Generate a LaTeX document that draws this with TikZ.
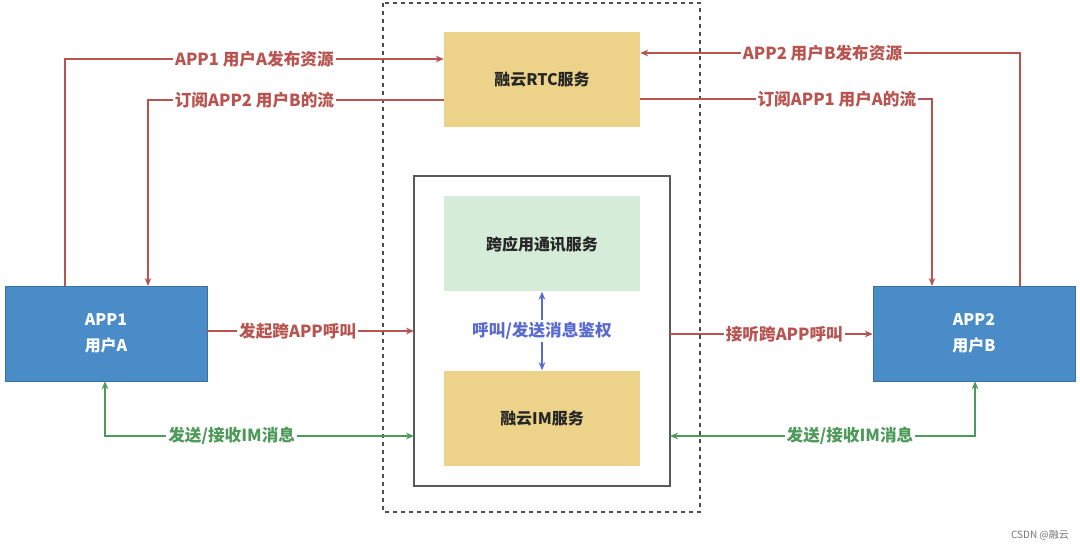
\documentclass[tikz,border=0pt]{standalone}
\usepackage{fontspec}
\setmainfont{Noto Sans CJK SC}
\usetikzlibrary{arrows.meta}
\definecolor{rd}{HTML}{B85450}
\definecolor{gn}{HTML}{4E9A5A}
\definecolor{bl}{HTML}{5A6BD0}
\definecolor{yb}{HTML}{EDD38A}
\definecolor{gb}{HTML}{D5EDD8}
\definecolor{ab}{HTML}{4A8CC8}
\begin{document}
\begin{tikzpicture}[x=0.0264cm,y=-0.0264cm,
  box/.style={draw=none,minimum width=196*0.0264cm,minimum height=95*0.0264cm,font=\bfseries\fontsize{12}{14}\selectfont,text=black!85},
  appbox/.style={fill=ab,draw=ab!80!black,minimum width=202*0.0264cm,minimum height=95*0.0264cm,text=white,font=\bfseries\fontsize{12}{20}\selectfont,align=center},
  lbl/.style={fill=white,inner sep=1.5pt,font=\bfseries\fontsize{12.5}{14}\selectfont},
  arr/.style={-{Stealth[length=6pt,width=5pt]},line width=1pt}]
\useasboundingbox (0,0) rectangle (1080,550);
\draw[dashed,line width=0.9pt,black!70] (383,3) rectangle (700,512);
\node[box,fill=yb] (rtc) at (542,79.5) {融云RTC服务};
\draw[line width=1.2pt,black!65] (414,176) rectangle (670,486);
\coordinate (gl1) at (414,331); \coordinate (gr1) at (670,334);
\coordinate (gl2) at (414,436); \coordinate (gr2) at (670,436);
\node[box,fill=gb] (cross) at (542,244) {跨应用通讯服务};
\node[box,fill=yb] (im) at (542,418) {融云IM服务};
\node[appbox] (a1) at (106,333.5) {APP1\\用户A};
\node[appbox] (a2) at (974,333.5) {APP2\\用户B};
% red
\draw[arr,rd] (a1.north -| 65,0) |- (rtc.west |- 0,59) node[lbl,text=rd,pos=0.75]{APP1 用户A发布资源};
\draw[arr,rd] (rtc.west |- 0,100) -| (148,286) node[lbl,text=rd,pos=0.32]{订阅APP2 用户B的流};
\draw[arr,rd] (a2.north -| 1020,0) |- (rtc.east |- 0,53) node[lbl,text=rd,pos=0.76]{APP2 用户B发布资源};
\draw[arr,rd] (rtc.east |- 0,99) -| (932,286) node[lbl,text=rd,pos=0.337]{订阅APP1 用户A的流};
\draw[arr,rd] (a1.east |- gl1) -- (gl1) node[lbl,text=rd,midway,xshift=-13*0.75pt]{发起跨APP呼叫};
\draw[arr,rd] (gr1) -- (a2.west |- gr1) node[lbl,text=rd,midway,xshift=13*0.75pt]{接听跨APP呼叫};
% green
\draw[arr,gn,{Stealth[length=6pt,width=5pt]}-{Stealth[length=6pt,width=5pt]}] (a1.south -| 105,0) |- (gl2) node[lbl,text=gn,pos=0.705]{发送/接收IM消息};
\draw[arr,gn,{Stealth[length=6pt,width=5pt]}-{Stealth[length=6pt,width=5pt]}] (gr2) -| (a2.south -| 975,0) node[lbl,text=gn,pos=0.295]{发送/接收IM消息};
% blue
\draw[arr,bl,{Stealth[length=6pt,width=5pt]}-{Stealth[length=6pt,width=5pt]}] (cross.south) -- (im.north) node[lbl,text=bl,midway]{呼叫/发送消息鉴权};
\node[font=\fontsize{7.5}{9}\selectfont,text=black!55] (wm) at (1040,535) {CSDN @融云};
\end{tikzpicture}
\end{document}
